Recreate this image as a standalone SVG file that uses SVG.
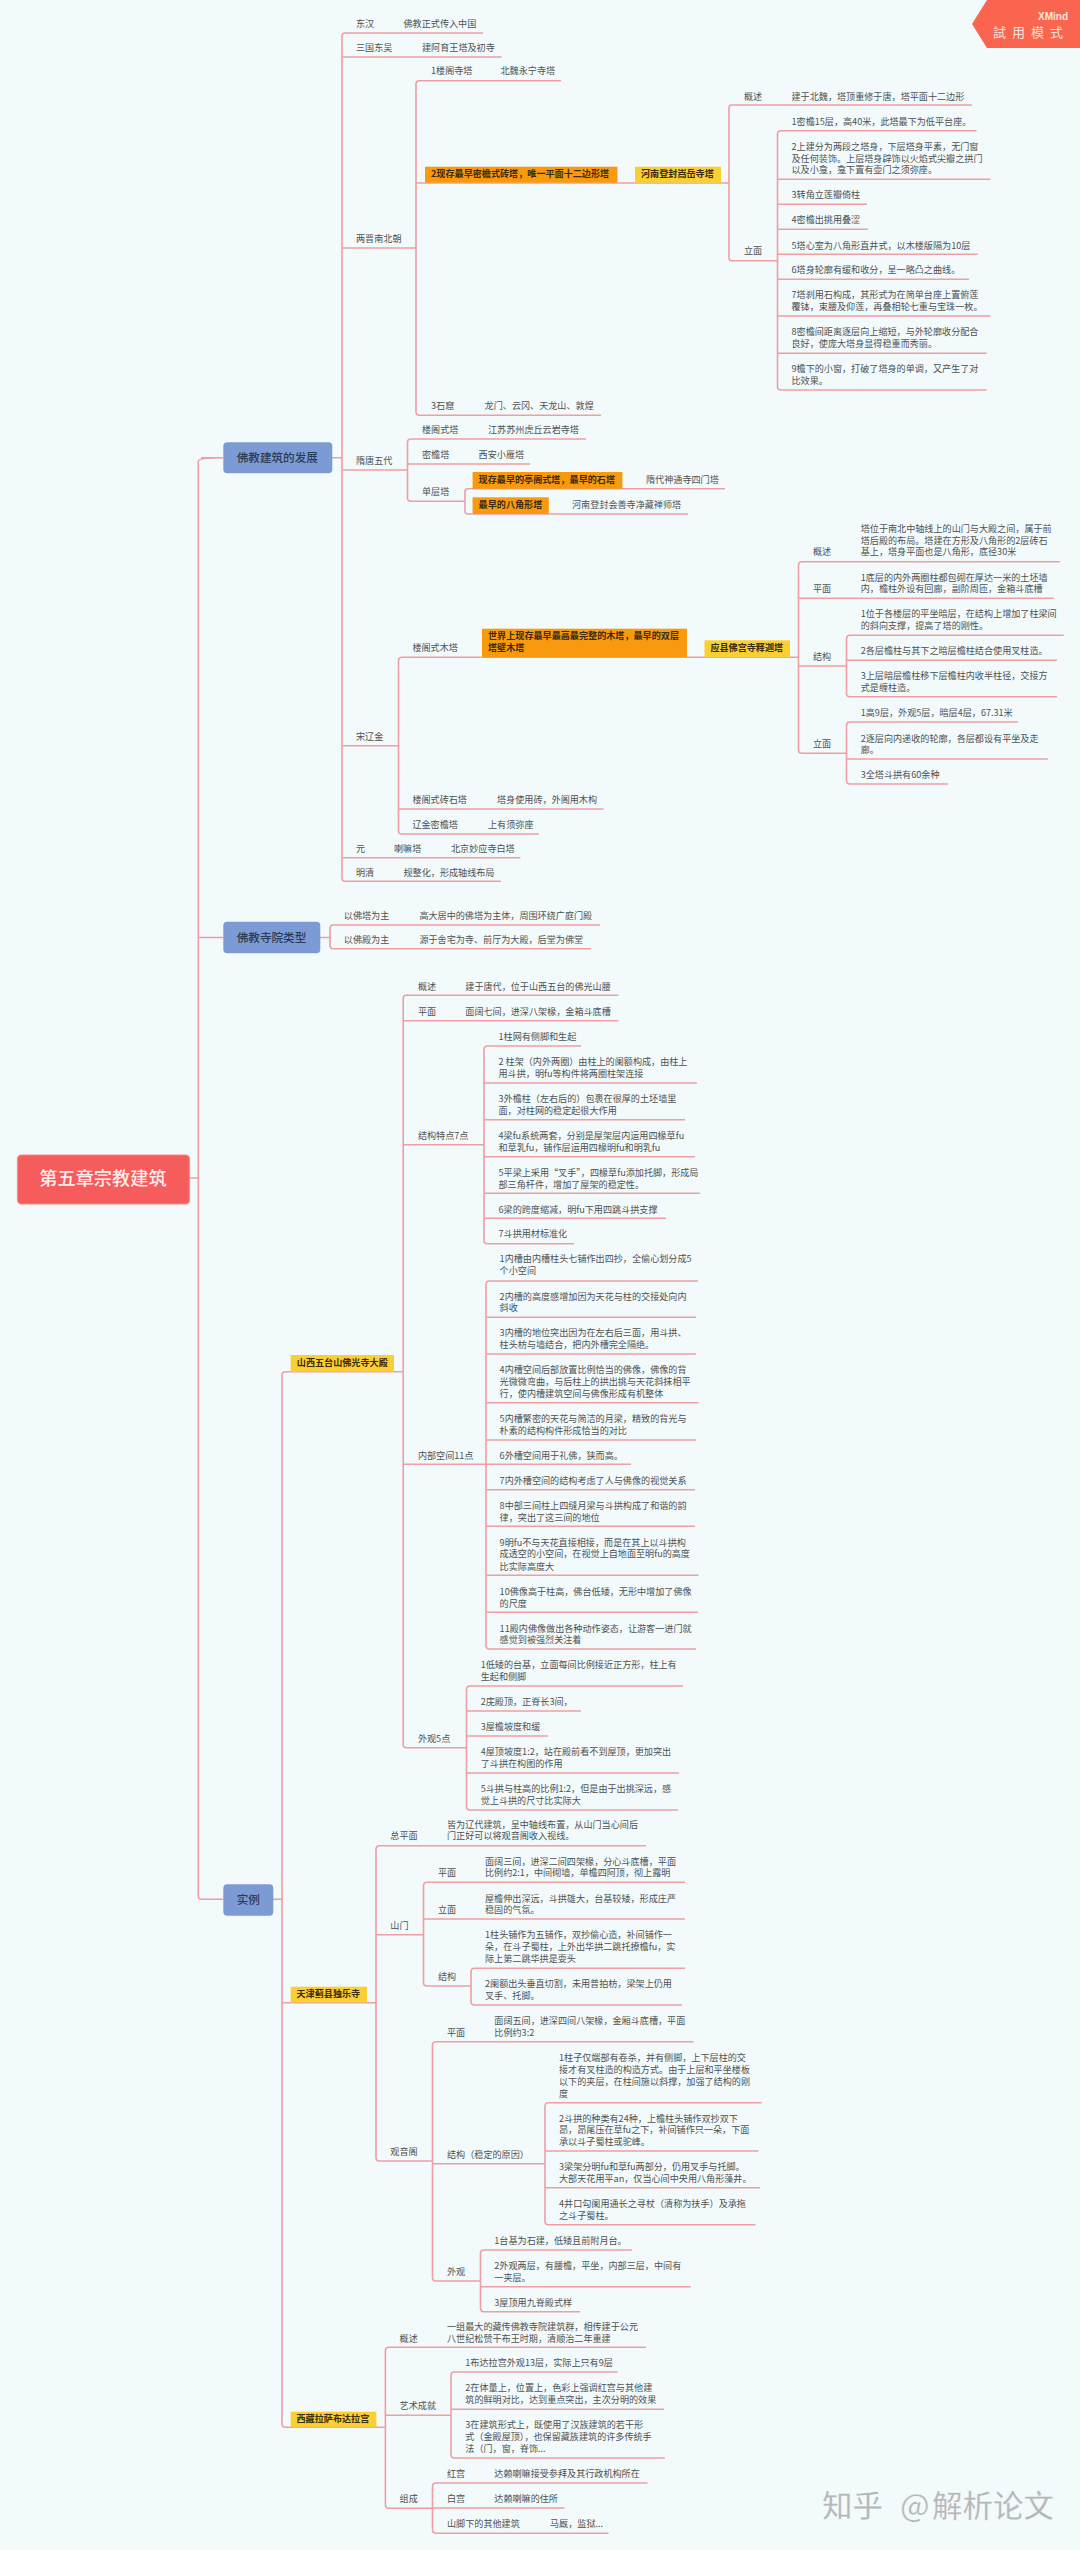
<svg xmlns="http://www.w3.org/2000/svg" width="1080" height="2550" viewBox="0 0 1080 2550">
<style>
text{font-family:"Noto Sans CJK SC","Liberation Sans",sans-serif;font-size:9.1px;fill:#4c5153}
.c path{fill:none;stroke:#ee9fa4;stroke-width:1.6}
.b{font-weight:700;fill:#3a2a10}
.o{fill:#f99a0e}
.y{fill:#f9cf33}
.m{fill:#7c9bd5}
.mt{font-size:11.6px;fill:#2b3a55;font-weight:500}
.w{font-size:30.5px;fill:#b4b8ba;stroke:#fff;stroke-width:.4px;font-weight:500}
</style>
<rect width="1080" height="2550" fill="#f3fafb"/>
<g id="connectors" class="c">
<path d="M189 1178H197.5M201 457.7H223Q198.3 457.7 198.3 461V1896Q198.3 1899.3 201.6 1899.3H223M198.3 937.5H223M332 457.7H342M320 937.5H330M273 1899.3H282"/>
<path d="M483 33H345Q342 33 342 36V878Q342 881.3 345 881.3H501M342 57H501.5M342 248H416M342 470H407.5M342 745.7H398.5M342 857.7H520.4"/>
<path d="M561 80.7H419Q416 80.7 416 84V412Q416 415.3 419 415.3H601M416 183H729"/>
<path d="M972 105H732Q729 105 729 108V257.7Q729 260.7 732 260.7H777"/>
<path d="M976.6 130.7H781Q777.5 130.7 777.5 134V386.7Q777.5 390 781 390H986.5M777.5 179.3H990.5M777.5 204.3H867M777.5 229.3H868M777.5 254.3H977.6M777.5 279.3H969M777.5 316H990.5M777.5 353.3H986.5"/>
<path d="M586 439H411Q407.5 439 407.5 442V498Q407.5 501.3 411 501.3H465M407.5 464H530"/>
<path d="M725 488.7H468Q465 488.7 465 492V511Q465 514 468 514H688"/>
<path d="M798.5 657.3H402Q398.5 657.3 398.5 661V830.7Q398.5 834 402 834H538.8M398.5 809H603.5"/>
<path d="M1060 561.7H802Q798.5 561.7 798.5 565V750Q798.5 753.3 802 753.3H846.5M798.5 598.3H1053.7M798.5 666H846.5"/>
<path d="M1063.7 635.3H850Q846.5 635.3 846.5 639V693.4Q846.5 696.7 850 696.7H1057M846.5 660.3H1057"/>
<path d="M1018 722H850Q846.5 722 846.5 725.5V780.7Q846.5 784 850 784H948M846.5 759H1047.8"/>
<path d="M600 925H333.5Q330 925 330 928.5V945.2Q330 948.7 333.5 948.7H591"/>
<path d="M394 1371.7H285.5Q282 1371.7 282 1375V2424Q282 2427.3 285.5 2427.3H385.4M282 2002.7H376"/>
<path d="M618.4 995.3H406.5Q403.2 995.3 403.2 998.6V1744.4Q403.2 1747.7 406.5 1747.7H466M403.2 1020.7H618.4M403.2 1144.7H484M403.2 1464.3H631M394 1371.7H403.2"/>
<path d="M581 1046H487.5Q484 1046 484 1049.5V1240.2Q484 1243.7 487.5 1243.7H574M484 1083H697M484 1119.7H685M484 1156.7H695M484 1193.3H700M484 1218.3H666"/>
<path d="M698 1281H489.5Q486 1281 486 1284.5V1645.5Q486 1649 489.5 1649H696M486 1317.3H696M486 1354H696M486 1402.7H698.6M486 1440H696M486 1489.7H695M486 1526.3H695M486 1575.3H698.6M486 1612.3H698"/>
<path d="M683 1686H470Q466.5 1686 466.5 1689.5V1806.5Q466.5 1810 470 1810H678M466.5 1711H581M466.5 1736H548M466.5 1773H679"/>
<path d="M646 1845.7H379.5Q376 1845.7 376 1849.2V2157.5Q376 2161 379.5 2161H432.5M376 1934.7H423.5"/>
<path d="M685 1882.3H427Q423.5 1882.3 423.5 1885.8V1982.5Q423.5 1986 427 1986H471M423.5 1919H685"/>
<path d="M685 1968.3H474.5Q471 1968.3 471 1971.8V2001.5Q471 2005 474.5 2005H682"/>
<path d="M693.4 2041.7H436Q432.5 2041.7 432.5 2045.2V2277.5Q432.5 2281 436 2281H480.5M432.5 2163.7H545"/>
<path d="M761.7 2102.7H548.5Q545 2102.7 545 2106.2V2221.2Q545 2224.7 548.5 2224.7H755.4M545 2151H758.6M545 2187.7H760"/>
<path d="M631.8 2250H484Q480.5 2250 480.5 2253.5V2308.2Q480.5 2311.7 484 2311.7H580M480.5 2286.7H690.7"/>
<path d="M646 2347.3H388.9Q385.4 2347.3 385.4 2350.8V2504.8Q385.4 2508.3 388.9 2508.3H432.5M385.4 2415.3H451"/>
<path d="M617.5 2372H454.5Q451 2372 451 2375.5V2454.5Q451 2458 454.5 2458H664.8M451 2409.3H664"/>
<path d="M647.4 2483H436Q432.5 2483 432.5 2486.5V2529.8Q432.5 2533.3 436 2533.3H608.6M432.5 2508H564.4"/>
</g>

<g id="root"><rect x="17.5" y="1155" width="172" height="49" rx="4" fill="#f65c5c" stroke="#f58a8a" stroke-width="1.2"/><text x="39.3" y="1184.6" style="font-size:18.2px;fill:#fdeeee;font-weight:500">第五章宗教建筑</text></g>
<g id="main1"><rect class="m" x="223.3" y="442.3" width="109" height="31" rx="4"/><text class="mt" x="236.7" y="461.5">佛教建筑的发展</text></g>
<g id="main2"><rect class="m" x="223.3" y="921.7" width="97" height="31.6" rx="4"/><text class="mt" x="236.7" y="941.7">佛教寺院类型</text></g>
<g id="main3"><rect class="m" x="223.3" y="1884.3" width="50" height="31.4" rx="4"/><text class="mt" x="236.7" y="1904.2">实例</text></g>

<g id="n-donghan"><text x="356" y="27.4">东汉</text><text x="403.5" y="27.4">佛教正式传入中国</text></g>
<g id="n-sanguo"><text x="356" y="51.4">三国东吴</text><text x="422" y="51.4">建阿育王塔及初寺</text></g>
<g id="n-liangjin"><text x="356" y="242.1">两晋南北朝</text></g>
<g id="n-louge"><text x="431" y="74.4">1楼阁寺塔</text><text x="500.5" y="74.4">北魏永宁寺塔</text></g>
<g id="n-song"><rect class="o" x="425" y="166.7" width="192.5" height="16"/><text class="b" x="431" y="177.1">2现存最早密檐式砖塔，唯一平面十二边形塔</text></g>
<g id="n-songyue"><rect class="y" x="635" y="166.7" width="86" height="16"/><text class="b" x="641" y="177.1">河南登封嵩岳寺塔</text></g>
<g id="n-sy-gs"><text x="744" y="99.7">概述</text><text x="791.5" y="99.7">建于北魏，塔顶重修于唐，塔平面十二边形</text></g>
<g id="n-sy-lm"><text x="744" y="254.4">立面</text></g>
<g id="n-sy-1"><text x="791.5" y="124.7">1密檐15层，高40米，此塔最下为低平台座。</text></g>
<g id="n-sy-2"><text x="791.5" y="149.7">2上建分为两段之塔身，下层塔身平素，无门窗</text><text x="791.5" y="161.7">及任何装饰。上层塔身辟饰以火焰式尖瓣之拱门</text><text x="791.5" y="173.4">以及小龛，龛下置有壶门之须弥座。</text></g>
<g id="n-sy-3"><text x="791.5" y="198.4">3转角立莲瓣倚柱</text></g>
<g id="n-sy-4"><text x="791.5" y="223.4">4密檐出挑用叠涩</text></g>
<g id="n-sy-5"><text x="791.5" y="248.7">5塔心室为八角形直井式，以木楼版隔为10层</text></g>
<g id="n-sy-6"><text x="791.5" y="273.4">6塔身轮廓有缓和收分，呈一略凸之曲线。</text></g>
<g id="n-sy-7"><text x="791.5" y="298.4">7塔刹用石构成，其形式为在简单台座上置俯莲</text><text x="791.5" y="310.4">覆钵，束腰及仰莲，再叠相轮七重与宝珠一枚。</text></g>
<g id="n-sy-8"><text x="791.5" y="335.4">8密檐间距离逐层向上缩短，与外轮廓收分配合</text><text x="791.5" y="347.4">良好，使庞大塔身显得稳重而秀丽。</text></g>
<g id="n-sy-9"><text x="791.5" y="372.1">9檐下的小窗，打破了塔身的单调，又产生了对</text><text x="791.5" y="384.1">比效果。</text></g>
<g id="n-shiku"><text x="431" y="409.1">3石窟</text><text x="484.6" y="409.1">龙门、云冈、天龙山、敦煌</text></g>

<g id="n-suitang"><text x="356" y="464.4">隋唐五代</text></g>
<g id="n-lg2"><text x="422" y="433.1">楼阁式塔</text><text x="488" y="433.1">江苏苏州虎丘云岩寺塔</text></g>
<g id="n-my"><text x="422" y="458.1">密檐塔</text><text x="478.6" y="458.1">西安小雁塔</text></g>
<g id="n-dc"><text x="422" y="495.4">单层塔</text></g>
<g id="n-dc1"><rect class="o" x="472.6" y="472" width="149.8" height="16.7"/><text class="b" x="478.6" y="483.1">现存最早的亭阁式塔，最早的石塔</text><text x="646" y="483.1">隋代神通寺四门塔</text></g>
<g id="n-dc2"><rect class="o" x="472.6" y="497.3" width="76.2" height="16.7"/><text class="b" x="478.6" y="508.1">最早的八角形塔</text><text x="572" y="508.1">河南登封会善寺净藏禅师塔</text></g>

<g id="n-songliao"><text x="356" y="739.7">宋辽金</text></g>
<g id="n-lgm"><text x="412.4" y="651.4">楼阁式木塔</text></g>
<g id="n-yx"><rect class="o" x="482" y="628.7" width="205" height="28.6"/><text class="b" x="488" y="639.4">世界上现存最早最高最完整的木塔，最早的双层</text><text class="b" x="488" y="651.4">塔壁木塔</text></g>
<g id="n-yy"><rect class="y" x="704.5" y="640.3" width="85.5" height="17"/><text class="b" x="710.4" y="651.4">应县佛宫寺释迦塔</text></g>
<g id="n-yx-gs"><text x="813" y="555.4">概述</text><text x="860.7" y="532.1">塔位于南北中轴线上的山门与大殿之间，属于前</text><text x="860.7" y="543.7">塔后殿的布局。塔建在方形及八角形的2层砖石</text><text x="860.7" y="555.4">基上，塔身平面也是八角形，底径30米</text></g>
<g id="n-yx-pm"><text x="813" y="592.4">平面</text><text x="860.7" y="580.7">1底层的内外两圈柱都包砌在厚达一米的土坯墙</text><text x="860.7" y="592.4">内，檐柱外设有回廊，副阶周匝，金箱斗底槽</text></g>
<g id="n-yx-jg"><text x="813" y="660.1">结构</text></g>
<g id="n-yx-j1"><text x="860.7" y="617.4">1位于各楼层的平坐暗层，在结构上增加了柱梁间</text><text x="860.7" y="629.4">的斜向支撑，提高了塔的刚性。</text></g>
<g id="n-yx-j2"><text x="860.7" y="654.4">2各层檐柱与其下之暗层檐柱结合使用叉柱造。</text></g>
<g id="n-yx-j3"><text x="860.7" y="679.4">3上层暗层檐柱移下层檐柱内收半柱径，交接方</text><text x="860.7" y="691.4">式是缠柱造。</text></g>
<g id="n-yx-lm"><text x="813" y="747.4">立面</text></g>
<g id="n-yx-l1"><text x="860.7" y="716.4">1高9层，外观5层，暗层4层，67.31米</text></g>
<g id="n-yx-l2"><text x="860.7" y="741.7">2逐层向内递收的轮廓，各层都设有平坐及走</text><text x="860.7" y="753.4">廊。</text></g>
<g id="n-yx-l3"><text x="860.7" y="778.4">3全塔斗拱有60余种</text></g>
<g id="n-lgz"><text x="412.4" y="803.4">楼阁式砖石塔</text><text x="497" y="803.4">塔身使用砖，外阁用木构</text></g>
<g id="n-ljm"><text x="412.4" y="828.4">辽金密檐塔</text><text x="488" y="828.4">上有须弥座</text></g>
<g id="n-yuan"><text x="356" y="852.1">元</text><text x="394" y="852.1">喇嘛塔</text><text x="451" y="852.1">北京妙应寺白塔</text></g>
<g id="n-mq"><text x="356" y="875.7">明清</text><text x="403.5" y="875.7">规整化，形成轴线布局</text></g>

<g id="n-yfo1"><text x="343.8" y="919.4">以佛塔为主</text><text x="419.4" y="919.4">高大居中的佛塔为主体，周围环绕广庭门殿</text></g>
<g id="n-yfo2"><text x="343.8" y="943.1">以佛殿为主</text><text x="419.4" y="943.1">源于舍宅为寺、前厅为大殿，后堂为佛堂</text></g>

<g id="n-fg"><rect class="y" x="290.7" y="1355" width="103.3" height="16.7"/><text class="b" x="296.8" y="1366.1">山西五台山佛光寺大殿</text></g>
<g id="n-fg-gs"><text x="417.9" y="989.7">概述</text><text x="465.3" y="989.7">建于唐代，位于山西五台的佛光山腰</text></g>
<g id="n-fg-pm"><text x="417.9" y="1014.7">平面</text><text x="465.3" y="1014.7">面阔七间，进深八架椽，金箱斗底槽</text></g>
<g id="n-fg-jg"><text x="417.9" y="1138.7">结构特点7点</text></g>
<g id="n-fg-j1"><text x="498.5" y="1040.1">1柱网有侧脚和生起</text></g>
<g id="n-fg-j2"><text x="498.5" y="1065.1">2 柱架（内外两圈）由柱上的阑额构成，由柱上</text><text x="498.5" y="1077.1">用斗拱，明fu等构件将两圈柱架连接</text></g>
<g id="n-fg-j3"><text x="498.5" y="1102.1">3外檐柱（左右后的）包裹在很厚的土坯墙里</text><text x="498.5" y="1113.7">面，对柱网的稳定起很大作用</text></g>
<g id="n-fg-j4"><text x="498.5" y="1138.7">4梁fu系统两套，分别是屋架层内运用四椽草fu</text><text x="498.5" y="1150.7">和草乳fu，铺作层运用四椽明fu和明乳fu</text></g>
<g id="n-fg-j5"><text x="498.5" y="1175.7">5平梁上采用“叉手”，四椽草fu添加托脚，形成局</text><text x="498.5" y="1187.7">部三角杆件，增加了屋架的稳定性。</text></g>
<g id="n-fg-j6"><text x="498.5" y="1212.7">6梁的跨度缩减，明fu下用四跳斗拱支撑</text></g>
<g id="n-fg-j7"><text x="498.5" y="1237.4">7斗拱用材标准化</text></g>
<g id="n-fg-nb"><text x="417.9" y="1458.7">内部空间11点</text></g>
<g id="n-fg-n1"><text x="499.6" y="1262.4">1内槽由内槽柱头七铺作出四抄，全偷心划分成5</text><text x="499.6" y="1274.4">个小空间</text></g>
<g id="n-fg-n2"><text x="499.6" y="1299.7">2内槽的高度感增加因为天花与柱的交接处向内</text><text x="499.6" y="1311.4">斜收</text></g>
<g id="n-fg-n3"><text x="499.6" y="1336.4">3内槽的地位突出因为在左右后三面，用斗拱、</text><text x="499.6" y="1348.4">柱头枋与墙结合，把内外槽完全隔绝。</text></g>
<g id="n-fg-n4"><text x="499.6" y="1373.1">4内槽空间后部放置比例恰当的佛像，佛像的背</text><text x="499.6" y="1385.1">光微微弯曲，与后柱上的拱出挑与天花斜抹相平</text><text x="499.6" y="1396.7">行，使内槽建筑空间与佛像形成有机整体</text></g>
<g id="n-fg-n5"><text x="499.6" y="1422.1">5内槽繁密的天花与简洁的月梁，精致的背光与</text><text x="499.6" y="1433.7">朴素的结构构件形成恰当的对比</text></g>
<g id="n-fg-n6"><text x="499.6" y="1458.7">6外槽空间用于礼佛，狭而高。</text></g>
<g id="n-fg-n7"><text x="499.6" y="1483.7">7内外槽空间的结构考虑了人与佛像的视觉关系</text></g>
<g id="n-fg-n8"><text x="499.6" y="1508.7">8中部三间柱上四缝月梁与斗拱构成了和谐的韵</text><text x="499.6" y="1520.7">律，突出了这三间的地位</text></g>
<g id="n-fg-n9"><text x="499.6" y="1545.7">9明fu不与天花直接相接，而是在其上以斗拱构</text><text x="499.6" y="1557.4">成透空的小空间，在视觉上自地面至明fu的高度</text><text x="499.6" y="1569.7">比实际高度大</text></g>
<g id="n-fg-n10"><text x="499.6" y="1594.7">10佛像高于柱高，佛台低矮，无形中增加了佛像</text><text x="499.6" y="1606.7">的尺度</text></g>
<g id="n-fg-n11"><text x="499.6" y="1631.7">11殿内佛像做出各种动作姿态，让游客一进门就</text><text x="499.6" y="1643.4">感觉到被强烈关注着</text></g>
<g id="n-fg-wg"><text x="417.9" y="1742.1">外观5点</text></g>
<g id="n-fg-w1"><text x="480.7" y="1668.4">1低矮的台基，立面每间比例接近正方形，柱上有</text><text x="480.7" y="1680.1">生起和侧脚</text></g>
<g id="n-fg-w2"><text x="480.7" y="1705.1">2庑殿顶，正脊长3间，</text></g>
<g id="n-fg-w3"><text x="480.7" y="1730.1">3屋檐坡度和缓</text></g>
<g id="n-fg-w4"><text x="480.7" y="1755.4">4屋顶坡度1:2，站在殿前看不到屋顶，更加突出</text><text x="480.7" y="1767.1">了斗拱在构图的作用</text></g>
<g id="n-fg-w5"><text x="480.7" y="1792.1">5斗拱与柱高的比例1:2，但是由于出挑深远，感</text><text x="480.7" y="1804.1">觉上斗拱的尺寸比实际大</text></g>

<g id="n-dl"><rect class="y" x="290.7" y="1986.7" width="76.3" height="15.7"/><text class="b" x="296.5" y="1997.4">天津蓟县独乐寺</text></g>
<g id="n-dl-zp"><text x="390.3" y="1839.4">总平面</text><text x="447" y="1827.7">皆为辽代建筑，呈中轴线布置，从山门当心间后</text><text x="447" y="1839.4">门正好可以将观音阁收入视线。</text></g>
<g id="n-dl-sm"><text x="390.3" y="1928.7">山门</text></g>
<g id="n-dl-s1"><text x="438" y="1876.4">平面</text><text x="485" y="1864.7">面阔三间，进深二间四架椽，分心斗底槽，平面</text><text x="485" y="1876.4">比例约2:1，中间砌墙，单檐四阿顶，彻上露明</text></g>
<g id="n-dl-s2"><text x="438" y="1913.4">立面</text><text x="485" y="1901.7">屋檐伸出深远，斗拱雄大，台基较矮，形成庄严</text><text x="485" y="1913.4">稳固的气氛。</text></g>
<g id="n-dl-s3"><text x="438" y="1980.4">结构</text></g>
<g id="n-dl-s31"><text x="485" y="1938.4">1柱头铺作为五铺作，双抄偷心造，补间铺作一</text><text x="485" y="1950.4">朵，在斗子蜀柱，上外出华拱二跳托撩檐fu，实</text><text x="485" y="1962.1">际上第二跳华拱是耍头</text></g>
<g id="n-dl-s32"><text x="485" y="1987.4">2阑额出头垂直切割，未用普拍枋，梁架上仍用</text><text x="485" y="1999.1">叉手、托脚。</text></g>
<g id="n-dl-gy"><text x="390.3" y="2155.4">观音阁</text></g>
<g id="n-dl-g1"><text x="447" y="2035.7">平面</text><text x="494.3" y="2024.1">面阔五间，进深四间八架椽，金厢斗底槽，平面</text><text x="494.3" y="2035.7">比例约3:2</text></g>
<g id="n-dl-g2"><text x="447" y="2157.7">结构（稳定的原因）</text></g>
<g id="n-dl-g21"><text x="559" y="2060.7">1柱子仅端部有卷杀，并有侧脚，上下层柱的交</text><text x="559" y="2072.7">接才有叉柱造的构造方式。由于上层和平坐楼板</text><text x="559" y="2084.7">以下的夹层，在柱间施以斜撑，加强了结构的刚</text><text x="559" y="2096.7">度</text></g>
<g id="n-dl-g22"><text x="559" y="2121.7">2斗拱的种类有24种，上檐柱头铺作双抄双下</text><text x="559" y="2133.4">昂，昂尾压在草fu之下，补间铺作只一朵，下面</text><text x="559" y="2145.1">承以斗子蜀柱或驼峰。</text></g>
<g id="n-dl-g23"><text x="559" y="2170.1">3梁架分明fu和草fu两部分，仍用叉手与托脚。</text><text x="559" y="2182.1">大部天花用平an，仅当心间中央用八角形藻井。</text></g>
<g id="n-dl-g24"><text x="559" y="2207.1">4井口勾阑用通长之寻杖（清称为扶手）及承拖</text><text x="559" y="2219.1">之斗子蜀柱。</text></g>
<g id="n-dl-g3"><text x="447" y="2274.7">外观</text></g>
<g id="n-dl-g31"><text x="494.3" y="2244.4">1台基为石建，低矮且前附月台。</text></g>
<g id="n-dl-g32"><text x="494.3" y="2269.1">2外观两层，有腰檐，平坐，内部三层，中间有</text><text x="494.3" y="2281.1">一夹层。</text></g>
<g id="n-dl-g33"><text x="494.3" y="2306.1">3屋顶用九脊殿式样</text></g>

<g id="n-bd"><rect class="y" x="290.7" y="2411.7" width="85.7" height="15.6"/><text class="b" x="296.5" y="2421.7">西藏拉萨布达拉宫</text></g>
<g id="n-bd-gs"><text x="399.6" y="2341.7">概述</text><text x="447" y="2329.7">一组最大的藏传佛教寺院建筑群，相传建于公元</text><text x="447" y="2341.7">八世纪松赞干布王时期，清顺治二年重建</text></g>
<g id="n-bd-ys"><text x="399.6" y="2409.4">艺术成就</text></g>
<g id="n-bd-y1"><text x="465.3" y="2366.4">1布达拉宫外观13层，实际上只有9层</text></g>
<g id="n-bd-y2"><text x="465.3" y="2391.4">2在体量上，位置上，色彩上强调红宫与其他建</text><text x="465.3" y="2403.4">筑的鲜明对比，达到重点突出，主次分明的效果</text></g>
<g id="n-bd-y3"><text x="465.3" y="2428.4">3在建筑形式上，既使用了汉族建筑的若干形</text><text x="465.3" y="2440.1">式（金殿屋顶），也保留藏族建筑的许多传统手</text><text x="465.3" y="2452.4">法（门，窗，脊饰...</text></g>
<g id="n-bd-zc"><text x="399.6" y="2502.4">组成</text></g>
<g id="n-bd-z1"><text x="447" y="2477.1">红宫</text><text x="494.3" y="2477.1">达赖喇嘛接受参拜及其行政机构所在</text></g>
<g id="n-bd-z2"><text x="447" y="2502.4">白宫</text><text x="494.3" y="2502.4">达赖喇嘛的住所</text></g>
<g id="n-bd-z3"><text x="447" y="2527.4">山脚下的其他建筑</text><text x="550" y="2527.4">马厩，监狱...</text></g>

<g id="watermark"><text class="w" x="822" y="2516.7">知乎</text><text class="w" x="900" y="2516.7">@</text><text class="w" x="932" y="2516.7">解析论文</text></g>
<g id="badge"><polygon points="972,24 987,0 1080,0 1080,48 987,48" fill="#f9654f"/><text x="1068" y="20" text-anchor="end" style="font-size:10px;font-weight:700;fill:#fde3dc;font-family:'Liberation Sans',sans-serif">XMind</text><text x="993" y="36.5" style="font-size:13px;fill:#fde3dc;letter-spacing:6px;font-family:'Noto Sans CJK TC',sans-serif">試用模式</text></g>
</svg>
